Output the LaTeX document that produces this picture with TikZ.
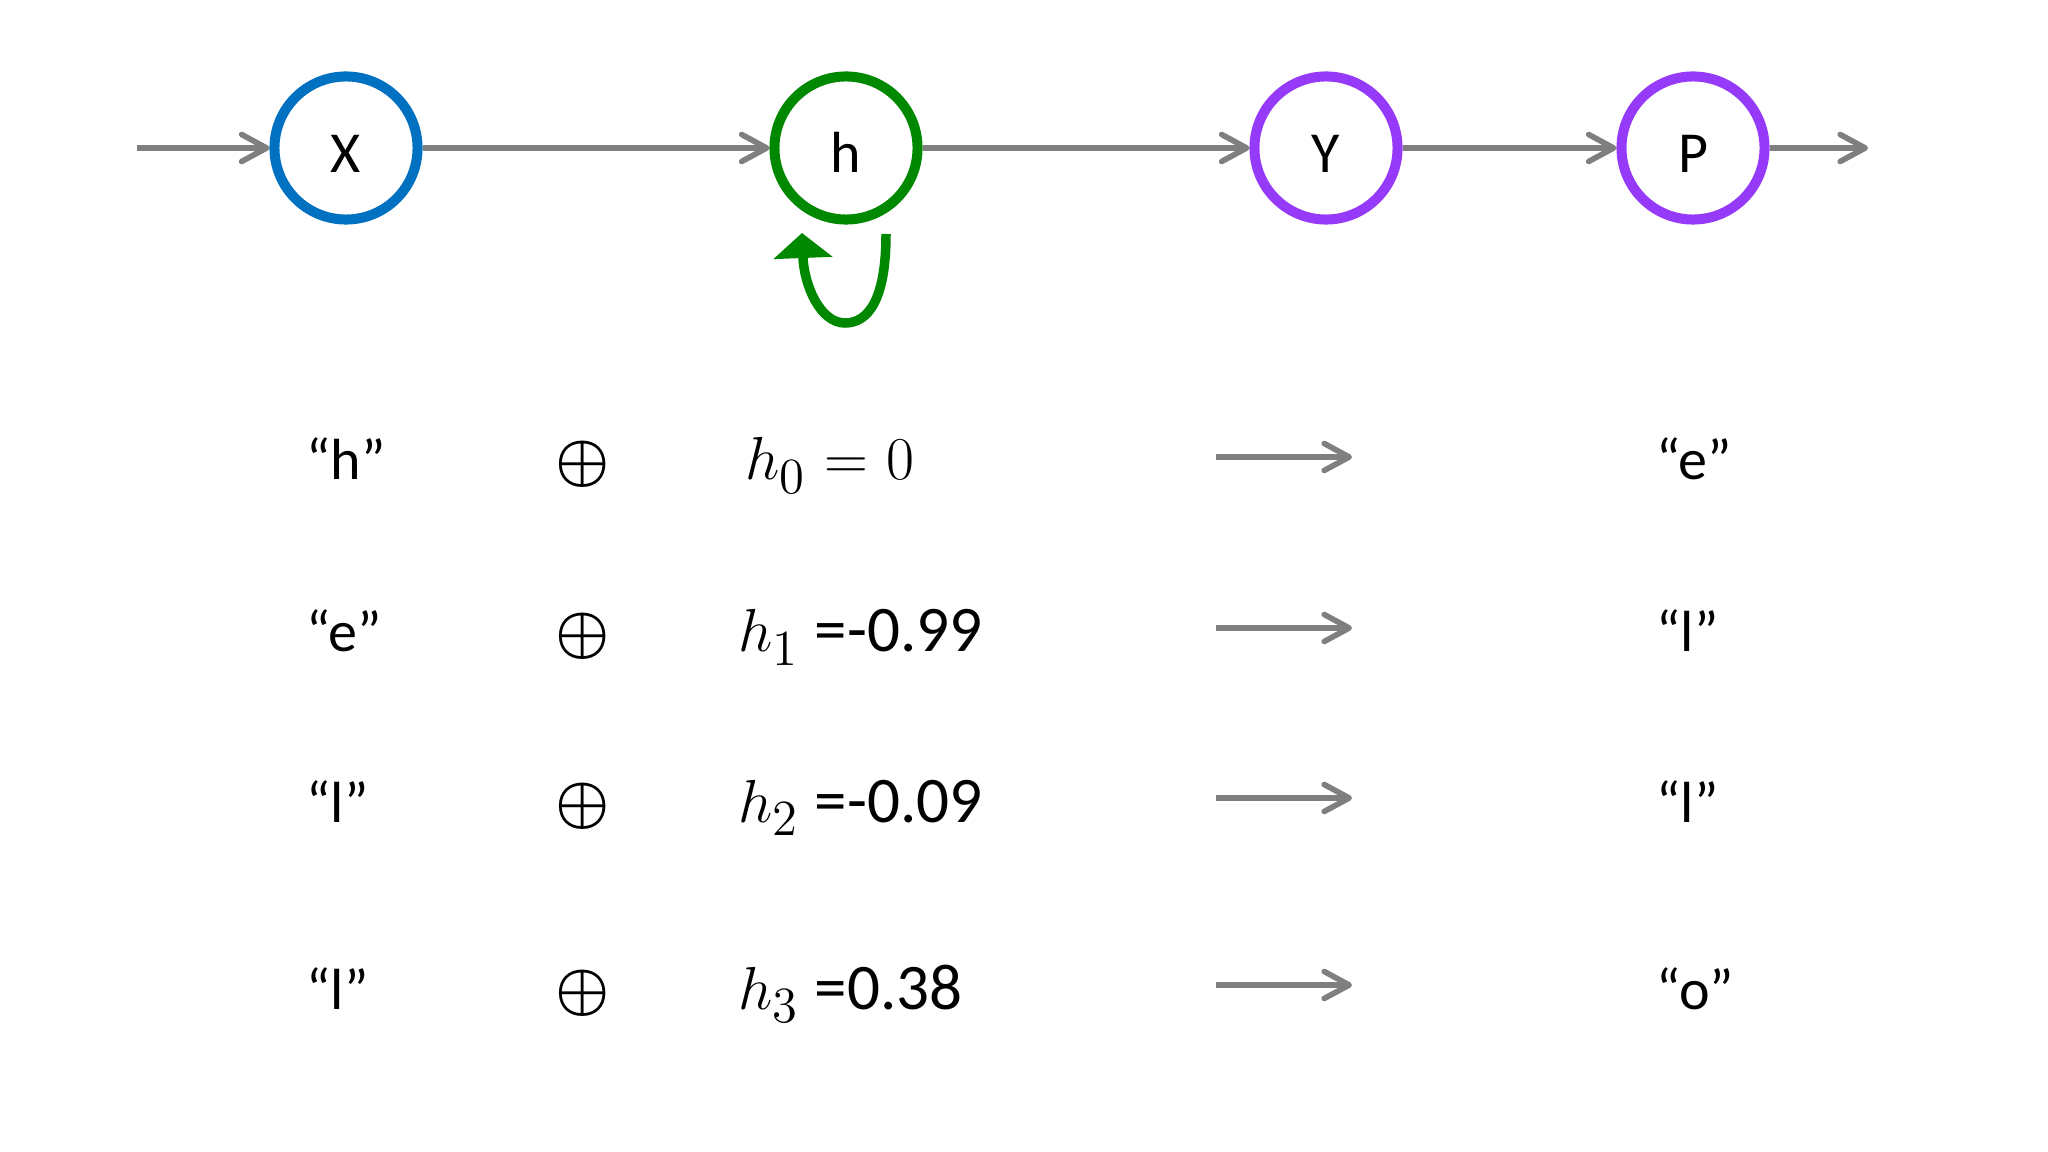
\documentclass[tikz,border=0pt]{standalone}
\usepackage{amsmath}
\usepackage{fontspec}
\setmainfont{Carlito}
\usetikzlibrary{arrows.meta,calc}
\definecolor{xblue}{RGB}{0,112,192}
\definecolor{hgreen}{RGB}{0,136,0}
\definecolor{ypurple}{RGB}{150,58,250}
\definecolor{agray}{RGB}{127,127,127}
\newcommand{\hsubx}[1]{{\fontsize{17.5}{20}\selectfont$h$}\raisebox{-0.13cm}{\fontsize{14}{16}\selectfont$#1$}}
\begin{document}
\begin{tikzpicture}[x=0.01cm,y=-0.01cm,
  unit/.style={circle,draw,line width=2.85pt,minimum size=1.43cm,inner sep=0pt,
    text height=0.48cm,text depth=0pt,font=\fontsize{16.5}{19}\selectfont},
  flow/.style={draw=agray,line width=1.6pt,-{Straight Barb[length=0.25cm,width=0.27cm,round]}},
  lbl/.style={anchor=base west,inner sep=0pt,font=\fontsize{16.5}{19}\selectfont},
  mth/.style={anchor=base west,inner sep=0pt,font=\fontsize{17}{20}\selectfont},
  num/.style={anchor=base west,inner sep=0pt,font=\fontsize{18.5}{22}\selectfont},
  opl/.style={anchor=center,inner sep=0pt,font=\fontsize{16}{19}\selectfont}]
\useasboundingbox (0,0) rectangle (2048,1152);
% top chain
\node[unit,draw=xblue] (X) at (346,148) {X};
\node[unit,draw=hgreen] (h) at (846,148) {h};
\node[unit,draw=ypurple] (Y) at (1326,148) {Y};
\node[unit,draw=ypurple] (P) at (1693,148) {P};
\coordinate (in) at (137,148);
\coordinate (out) at (1868,148);
\draw[flow] (in) -- (X);
\draw[flow] (X) -- (h);
\draw[flow] (h) -- (Y);
\draw[flow] (Y) -- (P);
\draw[flow] (P) -- (out);
% self loop
\coordinate (lA) at ($(h)+(40,86)$);
\coordinate (lB) at ($(h)+(-1,175)$);
\coordinate (lC) at ($(h)+(-44,85)$);
\draw[hgreen,line width=2.7pt,-{Triangle[length=0.25cm,width=0.58cm]}]
  (lA) .. controls ($(lA)+(0,66)$) and ($(lB)+(23,0)$) .. (lB)
       .. controls ($(lB)+(-25,0)$) and ($(lC)+(2,52)$) .. (lC);
% rows
\node[lbl] (c1) at (306,480) {“h”};
\node[lbl] (c2) at (306,652) {“e”};
\node[lbl] (c3) at (306,822) {“l”};
\node[lbl] (c4) at (306,1009) {“l”};
\node[opl] (o1) at (583,464) {$\boldsymbol{\oplus}$};
\node[opl] (o2) at (583,636) {$\boldsymbol{\oplus}$};
\node[opl] (o3) at (583,806) {$\boldsymbol{\oplus}$};
\node[opl] (o4) at (583,993) {$\boldsymbol{\oplus}$};
\node[mth] (m1) at (745,480) {\hsubx{0}\hspace{0.2cm}$=$\hspace{0.18cm}$0$};
\node[num] (m2) at (738,652) {\hsubx{1}\hspace{0.17cm}=-0.99};
\node[num] (m3) at (738,822) {\hsubx{2}\hspace{0.17cm}=-0.09};
\node[num] (m4) at (738,1009) {\hsubx{3}\hspace{0.17cm}=0.38};
\coordinate (s1) at (1216,457); \coordinate (e1) at (1352,457);
\coordinate (s2) at (1216,628); \coordinate (e2) at (1352,628);
\coordinate (s3) at (1216,798); \coordinate (e3) at (1352,798);
\coordinate (s4) at (1216,985); \coordinate (e4) at (1352,985);
\draw[flow] (s1) -- (e1);
\draw[flow] (s2) -- (e2);
\draw[flow] (s3) -- (e3);
\draw[flow] (s4) -- (e4);
\node[lbl] (r1) at (1656,480) {“e”};
\node[lbl] (r2) at (1656,652) {“l”};
\node[lbl] (r3) at (1656,822) {“l”};
\node[lbl] (r4) at (1656,1009) {“o”};
\end{tikzpicture}
\end{document}
